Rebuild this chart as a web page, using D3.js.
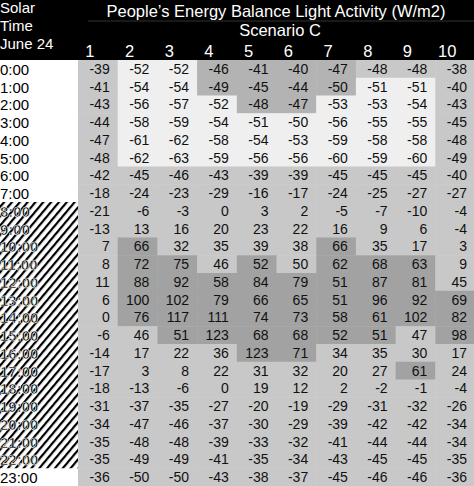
<!DOCTYPE html>
<html><head><meta charset="utf-8">
<script src="https://cdn.jsdelivr.net/npm/d3@7"></script>
<style>body{margin:0;background:#fff}svg{display:block;font-family:"Liberation Sans",Arial,sans-serif}</style>
</head><body><svg id="c" width="474" height="486"></svg>
<script>
// hours and scenario columns
var hours = d3.range(24).map(h => h + ":00")
var scenarios = d3.range(1, 11)
var values = [
 [-39,-52,-52,-46,-41,-40,-47,-48,-48,-38],
 [-41,-54,-54,-49,-45,-44,-50,-51,-51,-40],
 [-43,-56,-57,-52,-48,-47,-53,-53,-54,-43],
 [-44,-58,-59,-54,-51,-50,-56,-55,-55,-45],
 [-47,-61,-62,-58,-54,-53,-59,-58,-58,-48],
 [-48,-62,-63,-59,-56,-56,-60,-59,-60,-49],
 [-42,-45,-46,-43,-39,-39,-45,-45,-45,-40],
 [-18,-24,-23,-29,-16,-17,-24,-25,-27,-27],
 [-21,-6,-3,0,3,2,-5,-7,-10,-4],
 [-13,13,16,20,23,22,16,9,6,-4],
 [7,66,32,35,39,38,66,35,17,3],
 [8,72,75,46,52,50,62,68,63,9],
 [11,88,92,58,84,79,51,87,81,45],
 [6,100,102,79,66,65,51,96,92,69],
 [0,76,117,111,74,73,58,61,102,82],
 [-6,46,51,123,68,68,52,51,47,98],
 [-14,17,22,36,123,71,34,35,30,17],
 [-17,3,8,22,31,32,20,27,61,24],
 [-18,-13,-6,0,19,12,2,-2,-1,-4],
 [-31,-37,-35,-27,-20,-19,-29,-31,-32,-26],
 [-34,-47,-46,-37,-30,-29,-39,-42,-42,-34],
 [-35,-48,-48,-39,-33,-32,-41,-44,-44,-34],
 [-35,-49,-49,-41,-35,-34,-43,-45,-45,-35],
 [-36,-50,-50,-43,-38,-37,-45,-46,-46,-36]
]
// highlight band per cell: 0 lowest, 1 normal, 2 peak, 3 night high
var bands = [
 "1003333111","1003333001","1000330001","1000000001","1000000001","1000000001",
 "1111111111","1111111111","1111111111","1111111111",
 "1211112111","1221212221","1222222221","1222222222","1222222222",
 "1122222212","1111221111","1111111121",
 "1111111111","1111111111","1111111111","1111111111","1111111111","1111111111"
]
var hatched = d3.range(8, 23)

var svg = d3.select("#c")
var W = 474, topY = 60, left = 78
var x = d3.scaleBand().domain(scenarios).range([left, W + 1])
var y = d3.scaleBand().domain(hours).range([topY, 486])
var fill = ["#efefef", "#c8c8c8", "#a2a2a2", "#b3b3b3"]

svg.append("rect").attr("width", W).attr("height", topY).attr("fill", "#000")
svg.append("text").attr("x", 276).attr("y", 17).attr("text-anchor", "middle").attr("fill", "#fff")
  .attr("font-size", 16.5).text("People\u2019s Energy Balance Light Activity (W/m2)")
svg.append("line").attr("x1", 88).attr("x2", W).attr("y1", 21).attr("y2", 21).attr("stroke", "#333")
svg.append("text").attr("x", 280).attr("y", 36).attr("text-anchor", "middle").attr("fill", "#fff")
  .attr("font-size", 16.5).text("Scenario C")
svg.selectAll(".lab").data(["Solar", "Time", "June 24"]).join("text").attr("class", "lab")
  .attr("x", 0).attr("y", (d, i) => 13 + i * 18).attr("fill", "#fff").attr("font-size", 15).text(d => d)
svg.selectAll(".col").data(scenarios).join("text").attr("class", "col")
  .attr("x", d => x(d) + x.bandwidth() / 2 - 8).attr("y", 57).attr("text-anchor", "middle")
  .attr("fill", "#fff").attr("font-size", 16.5).text(d => d)

// hatch pattern for the row label column
var pat = svg.append("defs").append("pattern").attr("id", "h").attr("width", 6).attr("height", 6)
  .attr("patternUnits", "userSpaceOnUse").attr("patternTransform", "rotate(40)")
pat.append("rect").attr("width", 2.2).attr("height", 6).attr("fill", "#000")
svg.append("rect").attr("x", 0).attr("y", y(hours[8])).attr("width", left)
  .attr("height", y(hours[22]) + y.bandwidth() - y(hours[8])).attr("fill", "url(#h)")

var cells = []
values.forEach((row, r) => row.forEach((v, c) => cells.push({r, c, v, b: +bands[r][c]})))
svg.selectAll(".cell").data(cells).join("rect").attr("class", "cell")
  .attr("x", d => x(scenarios[d.c])).attr("y", d => y(hours[d.r]))
  .attr("width", x.bandwidth() + 0.5).attr("height", y.bandwidth() + 0.5)
  .attr("fill", d => fill[d.b])
svg.selectAll(".val").data(cells).join("text").attr("class", "val")
  .attr("x", d => x(scenarios[d.c]) + x.bandwidth() - 8).attr("y", d => y(hours[d.r]) + y.bandwidth() / 2 + 5)
  .attr("text-anchor", "end").attr("font-size", 14).attr("fill", "#111").text(d => d.v)

svg.selectAll(".hr").data(hours).join("text").attr("class", "hr")
  .attr("x", 0).attr("y", d => y(d) + y.bandwidth() / 2 + 6)
  .attr("font-size", 15).attr("fill", "#000")
  .attr("stroke", (d, i) => hatched.includes(i) ? "#fff" : "none").attr("stroke-width", 0.6)
  .attr("font-weight", (d, i) => hatched.includes(i) ? "bold" : "normal")
  .text(d => d)
</script></body></html>
